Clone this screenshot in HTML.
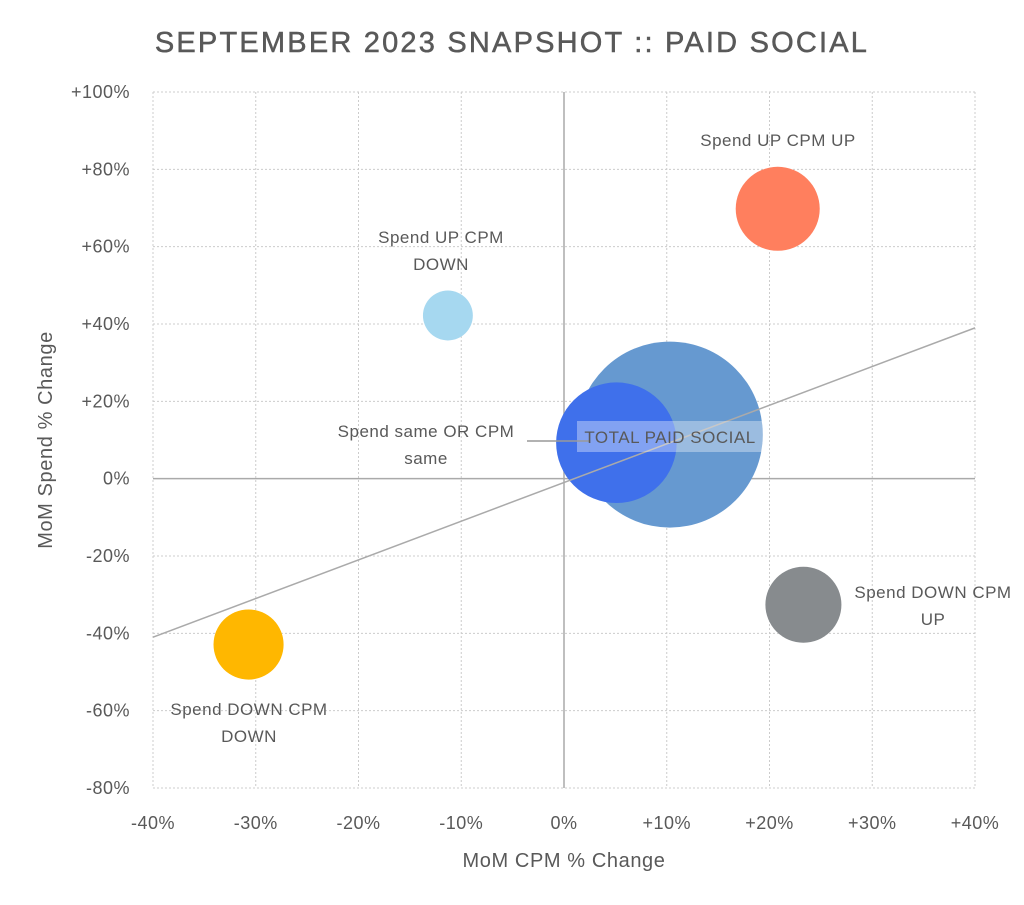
<!DOCTYPE html>
<html><head><meta charset="utf-8"><style>
body{margin:0;background:#fff;font-family:"Liberation Sans",sans-serif}
svg text{font-family:"Liberation Sans",sans-serif;fill:#595959}
</style></head><body>
<svg id="c" width="1024" height="900">
<text x="512" y="52" text-anchor="middle" font-size="29" letter-spacing="2.2" stroke="#595959" stroke-width="0.5">SEPTEMBER 2023 SNAPSHOT :: PAID SOCIAL</text>
<text x="564" y="867" text-anchor="middle" font-size="20" letter-spacing="0.6">MoM CPM % Change</text>
<text transform="translate(52,440) rotate(-90)" text-anchor="middle" font-size="20" letter-spacing="0.6">MoM Spend % Change</text>
<g id="g"></g>
</svg>
<script>
const xTicks=[-40,-30,-20,-10,0,10,20,30,40];
const yTicks=[-80,-60,-40,-20,0,20,40,60,80,100];
const names=["TOTAL PAID SOCIAL","Spend same OR CPM same","Spend UP CPM UP","Spend UP CPM DOWN","Spend DOWN CPM UP","Spend DOWN CPM DOWN"];
const cpm=[10.3,5.1,20.8,-11.3,23.3,-30.7];
const spend=[11.4,9.3,69.8,42.2,-32.6,-42.9];
const size=[100,42,20.4,7.2,16.7,14.2];
const colors=["#6699d0","#3f70eb","#ff7f5e","#a6d8f0","#878b8e","#ffb700"];
const trendX=[-40,40];
const trendY=[-41,39];
const X0=153,X1=975,Y0=788,Y1=92;
const sx=v=>X0+(v+40)/80*(X1-X0);
const sy=v=>Y0-(v+80)/180*(Y0-Y1);
const sr=s=>93*Math.sqrt(s/100);
const g=document.getElementById('g');
const NS="http://www.w3.org/2000/svg";
function el(t,a,txt){const e=document.createElementNS(NS,t);for(const k in a)e.setAttribute(k,a[k]);if(txt!==undefined)e.textContent=txt;g.appendChild(e);return e;}
xTicks.forEach(v=>{
 if(v!==0){const l=el('line',{x1:sx(v),x2:sx(v),y1:Y1,y2:Y0,stroke:'#ccc','stroke-dasharray':'2,2'});
 
 }
 const t=el('text',{x:sx(v),y:Y0+41,'text-anchor':'middle','font-size':18,'letter-spacing':0.5},(v>0?'+':'')+v+'%');
 
 
});
yTicks.forEach(v=>{
 if(v!==0){const l=el('line',{x1:X0,x2:X1,y1:sy(v),y2:sy(v),stroke:'#ccc','stroke-dasharray':'2,2'});
 
 }
 const t=el('text',{x:130,y:sy(v)+6,'text-anchor':'end','font-size':18,'letter-spacing':0.5},(v>0?'+':'')+v+'%');
 
 
});
let z=el('line',{x1:sx(0),x2:sx(0),y1:Y1,y2:Y0,stroke:'#aaa','stroke-width':1.5});


z=el('line',{x1:X0,x2:X1,y1:sy(0),y2:sy(0),stroke:'#aaa','stroke-width':1.5});


names.forEach((n,i)=>{
 const c=el('circle',{cx:sx(cpm[i]),cy:sy(spend[i]),r:sr(size[i]),fill:colors[i]});
 
 
});
const tl=el('line',{x1:sx(trendX[0]),y1:sy(trendY[0]),x2:sx(trendX[1]),y2:sy(trendY[1]),stroke:'#aaa','stroke-width':1.5});


const bx=el('rect',{x:577,y:421,width:186,height:31,fill:'#fff','fill-opacity':0.35});


const ld=el('line',{x1:527,y1:441,x2:590,y2:441,stroke:'#999','stroke-width':1.5});


const labels=[
 [670,443,["TOTAL PAID SOCIAL"]],
 [426,437,["Spend same OR CPM","same"]],
 [778,146,["Spend UP CPM UP"]],
 [441,243,["Spend UP CPM","DOWN"]],
 [933,598,["Spend DOWN CPM","UP"]],
 [249,715,["Spend DOWN CPM","DOWN"]]
];
labels.forEach((L,i)=>{
 L[2].forEach((s,j)=>{
  const t=el('text',{x:L[0],y:L[1]+j*27,'text-anchor':'middle','font-size':17,'letter-spacing':0.5,fill:'#404040'},s);
  
  
 });
});
</script>
</body></html>
